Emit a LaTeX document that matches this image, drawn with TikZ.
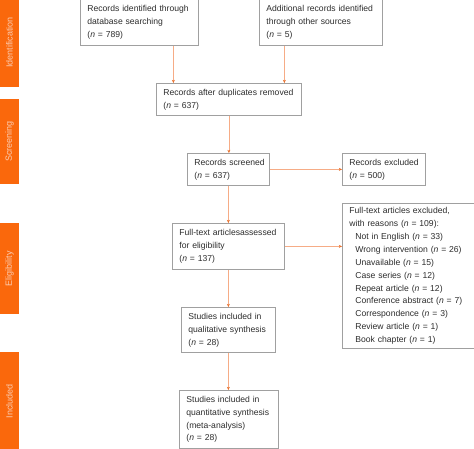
\documentclass[tikz,border=0pt]{standalone}
\usepackage{fontspec}
\setmainfont{Liberation Sans}
\usetikzlibrary{arrows.meta}
\definecolor{barorange}{RGB}{250,104,12}
\definecolor{bartext}{RGB}{252,204,176}
\definecolor{arrowline}{RGB}{246,172,134}
\definecolor{arrowhead}{RGB}{232,112,44}
\definecolor{boxgray}{RGB}{160,160,160}
\definecolor{txtgray}{RGB}{45,45,45}
\newcommand{\boxfont}{\fontsize{8.6}{12.9}\selectfont\exhyphenpenalty=10000\hyphenpenalty=10000}
\newcommand{\nn}{\textit{n}}
\tikzset{
  box/.style={draw=boxgray, line width=0.8pt, fill=white, anchor=north west,
    inner xsep=7pt, inner ysep=0pt, align=left, font=\boxfont, text=txtgray},
  bar/.style={fill=barorange, draw=none, rotate=90, minimum height=19pt,
    inner sep=0pt, text=bartext, font=\fontsize{9}{10}\selectfont},
  flow/.style={draw=arrowline, line width=0.8pt,
    -{Stealth[length=3.2pt,width=3pt,color=arrowhead]}}
}
\begin{document}
\begin{tikzpicture}[x=1pt,y=-1pt]
\useasboundingbox (0,0) rectangle (474,448);
\clip (0,0) rectangle (474,448);
% side bars
\node[bar, minimum width=89pt] (s1) at (9.5,42.5) {Identification};
\node[bar, minimum width=85pt] (s2) at (9.5,141.5) {Screening};
\node[bar, minimum width=91pt] (s3) at (9.5,268.5) {Eligibility};
\node[bar, minimum width=98pt] (s4) at (9.5,401) {Included};
% boxes
\node[box, text width=104pt, minimum height=47pt] (b1) at (80,-2)
  {Records~identified~through\\database~searching\\(\nn{}~=~789)};
\node[box, text width=109pt, minimum height=47pt] (b2) at (259,-2)
  {Additional~records~identified\\through~other~sources\\(\nn{}~=~5)};
\node[box, text width=131pt, minimum height=32pt] (b3) at (156,83)
  {Records~after~duplicates~removed\\(\nn{}~=~637)};
\node[box, text width=68pt, minimum height=32pt] (b4) at (187,153)
  {Records~screened\\(\nn{}~=~637)};
\node[box, text width=69pt, minimum height=32pt] (b5) at (342,153)
  {Records~excluded\\(\nn{}~=~500)};
\node[box, text width=98pt, minimum height=46pt] (b6) at (172,223)
  {Full-text~articlesassessed\\for~eligibility\\(\nn{}~=~137)};
\node[box, text width=120pt, minimum height=145pt] (b7) at (342,203)
  {Full-text~articles~excluded,\\with~reasons~(\nn{}~=~109):\\
   \hspace*{6pt}Not~in~English~(\nn{}~=~33)\\
   \hspace*{6pt}Wrong~intervention~(\nn{}~=~26)\\
   \hspace*{6pt}Unavailable~(\nn{}~=~15)\\
   \hspace*{6pt}Case~series~(\nn{}~=~12)\\
   \hspace*{6pt}Repeat~article~(\nn{}~=~12)\\
   \hspace*{6pt}Conference~abstract~(\nn{}~=~7)\\
   \hspace*{6pt}Correspondence~(\nn{}~=~3)\\
   \hspace*{6pt}Review~article~(\nn{}~=~1)\\
   \hspace*{6pt}Book~chapter~(\nn{}~=~1)};
\node[box, text width=80pt, minimum height=45pt] (b8) at (181,307)
  {Studies~included~in\\qualitative~synthesis\\(\nn{}~=~28)};
\node[box, text width=85pt, minimum height=58pt] (b9) at (179,390)
  {Studies~included~in\\quantitative~synthesis\\(meta-analysis)\\(\nn{}~=~28)};
% connectors
\draw[flow] ([xshift=34pt]b1.south) -- ([xshift=34pt]b1.south |- b3.north);
\draw[flow] ([xshift=-36.5pt]b2.south) -- ([xshift=-36.5pt]b2.south |- b3.north);
\draw[flow] (b3.south) -- (b3.south |- b4.north);
\draw[flow] (b4.east) -- (b4.east -| b5.west);
\draw[flow] (b4.south) -- (b4.south |- b6.north);
\draw[flow] (b6.east) -- (b6.east -| b7.west);
\draw[flow] (b6.south) -- (b6.south |- b8.north);
\draw[flow] (b8.south) -- (b8.south |- b9.north);
\end{tikzpicture}
\end{document}
